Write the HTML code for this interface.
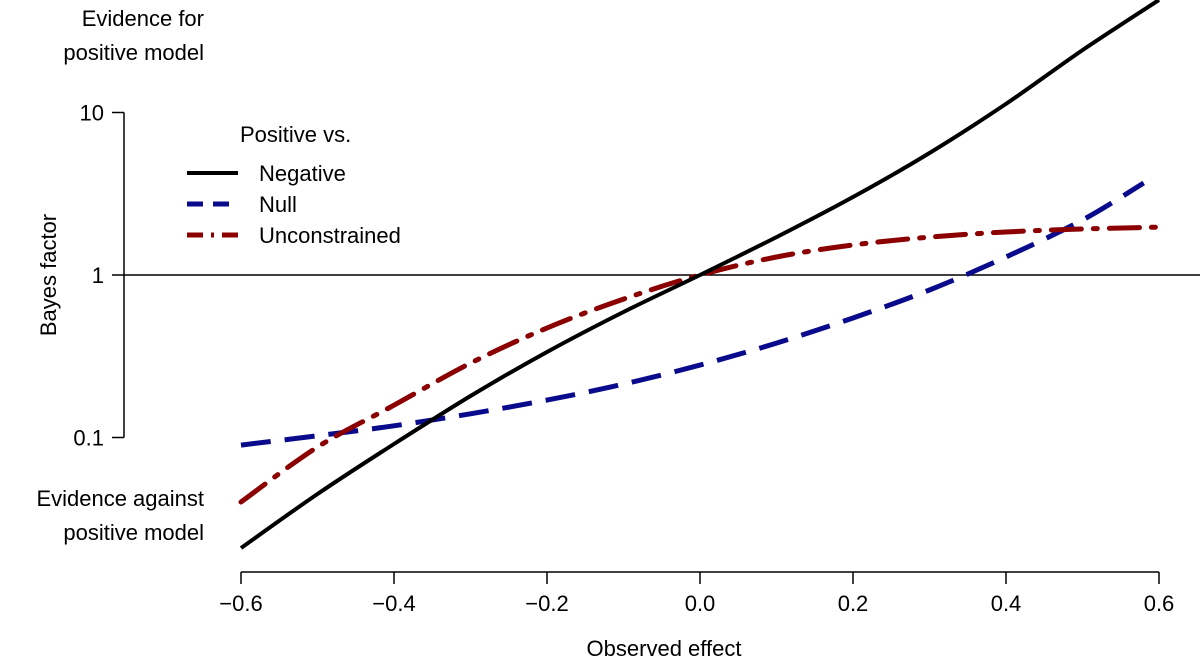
<!DOCTYPE html>
<html><head><meta charset="utf-8"><style>
body{margin:0;background:#fff}
svg{display:block;font-family:"Liberation Sans",Arial,sans-serif}
</style></head><body>
<svg id="chart" width="1200" height="660" viewBox="0 0 1200 660">
<g id="axes"></g><g id="series"></g><g id="legend"></g>
</svg>
<script>
const xs = [-0.6,-0.5,-0.4,-0.3,-0.2,-0.1,0,0.1,0.2,0.3,0.4,0.5,0.6];
const negativeVals = [0.0209,0.0449,0.0912,0.18,0.336,0.592,1,1.71,3.02,5.63,11.3,24.2,49.3];
const nullXs = [-0.6,-0.5,-0.4,-0.3,-0.2,-0.1,0,0.1,0.2,0.3,0.4,0.5,0.58];
const nullVals = [0.0898,0.1025,0.118,0.14,0.17,0.213,0.279,0.381,0.544,0.809,1.29,2.18,3.68];
const unconVals = [0.0401,0.0874,0.158,0.287,0.472,0.711,1,1.29,1.53,1.71,1.84,1.92,1.97];
const xTicks = [-0.6,-0.4,-0.2,0.0,0.2,0.4,0.6];
const xTickLabels = ["\u22120.6","\u22120.4","\u22120.2","0.0","0.2","0.4","0.6"];
const yTicks = [0.1,1,10];
const yTickLabels = ["0.1","1","10"];

const NS="http://www.w3.org/2000/svg";
const X = v => 241 + (v + 0.6) / 1.2 * 918;
const Y = v => 275 - Math.log10(v) * 162.5;
function mk(tag, attrs, parent, text){
  const e=document.createElementNS(NS,tag);
  for(const k in attrs) e.setAttribute(k,attrs[k]);
  if(text!==undefined) e.textContent=text;
  parent.appendChild(e); return e;
}
const axes=document.getElementById('axes');
const series=document.getElementById('series');
const legend=document.getElementById('legend');

let a=mk('line',{x1:X(-0.6),x2:X(0.6),y1:572,y2:572,stroke:'#000','stroke-width':1.5},axes);


xTicks.forEach((t,i)=>{
  const l=mk('line',{x1:X(t),x2:X(t),y1:572,y2:584,stroke:'#000','stroke-width':1.5},axes);
  
  
  const tx=mk('text',{x:X(t),y:611,'text-anchor':'middle','font-size':22},axes,xTickLabels[i]);
  
  
});
a=mk('text',{x:664,y:656,'text-anchor':'middle','font-size':22},axes,'Observed effect');



a=mk('line',{x1:124,x2:124,y1:Y(10),y2:Y(0.1),stroke:'#000','stroke-width':1.5},axes);


yTicks.forEach((t,i)=>{
  const l=mk('line',{x1:112,x2:124,y1:Y(t),y2:Y(t),stroke:'#000','stroke-width':1.5},axes);
  
  
  const tx=mk('text',{x:104,y:Y(t)+8,'text-anchor':'end','font-size':22},axes,yTickLabels[i]);
  
  
});
a=mk('text',{x:0,y:0,'text-anchor':'middle','font-size':22,transform:'translate(56,275) rotate(-90)'},axes,'Bayes factor');


[['Evidence for',26],['positive model',60]].forEach(p=>{
  const t=mk('text',{x:204,y:p[1],'text-anchor':'end','font-size':22},axes,p[0]);
  
  
});
[['Evidence against',506],['positive model',540]].forEach(p=>{
  const t=mk('text',{x:204,y:p[1],'text-anchor':'end','font-size':22},axes,p[0]);
  
  
});
a=mk('line',{x1:124,x2:1200,y1:Y(1),y2:Y(1),stroke:'#000','stroke-width':1.5},axes);



function path(xv,yv){
  const p=xv.map((x,i)=>[X(x),Y(yv[i])]);
  let d='M'+p[0][0].toFixed(1)+','+p[0][1].toFixed(1);
  for(let i=0;i<p.length-1;i++){
    const p0=p[Math.max(i-1,0)],p1=p[i],p2=p[i+1],p3=p[Math.min(i+2,p.length-1)];
    const c1=[p1[0]+(p2[0]-p0[0])/6,p1[1]+(p2[1]-p0[1])/6];
    const c2=[p2[0]-(p3[0]-p1[0])/6,p2[1]-(p3[1]-p1[1])/6];
    d+=' C'+c1.map(v=>v.toFixed(1)).join(',')+' '+c2.map(v=>v.toFixed(1)).join(',')+' '+p2.map(v=>v.toFixed(1)).join(',');
  }
  return d;
}
a=mk('path',{d:path(nullXs,nullVals),fill:'none',stroke:'#0a0a8c','stroke-width':5,'stroke-dasharray':'30,14'},series);


a=mk('path',{d:path(xs,unconVals),fill:'none',stroke:'#8b0000','stroke-width':5,'stroke-dasharray':'30,12,4,12','stroke-linecap':'round'},series);


a=mk('path',{d:path(xs,negativeVals),fill:'none',stroke:'#000','stroke-width':4},series);



a=mk('text',{x:240,y:142,'font-size':22},legend,'Positive vs.');


const leg=[['Negative','#000',4,'none',181],['Null','#0a0a8c',5,'16,10',212],['Unconstrained','#8b0000',5,'16,8,3,8',243]];
leg.forEach(e=>{
  const l=mk('line',{x1:187,x2:238,y1:e[4]-8,y2:e[4]-8,stroke:e[1],'stroke-width':e[2],'stroke-dasharray':e[3]},legend);
  
  
  const t=mk('text',{x:259,y:e[4],'font-size':22},legend,e[0]);
  
  
});
</script>
</body></html>
